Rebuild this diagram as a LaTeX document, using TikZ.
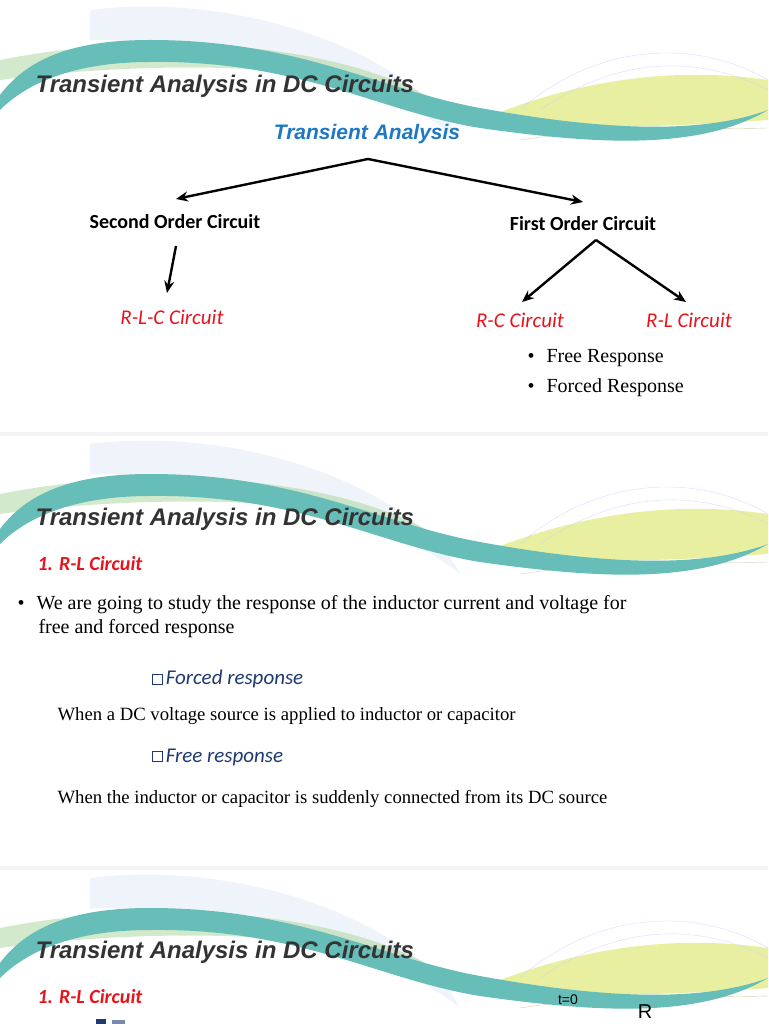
\documentclass[tikz,border=0pt]{standalone}
\usepackage{fontspec}
\setmainfont{Liberation Serif}
\setsansfont{Liberation Sans}
\newfontfamily\carl{Carlito}
\usetikzlibrary{arrows.meta}
\definecolor{teal1}{HTML}{67BDB8}
\definecolor{ttl}{HTML}{333333}
\definecolor{blu}{HTML}{1E78C2}
\definecolor{rd}{HTML}{E8141C}
\definecolor{navy}{HTML}{1F3A6E}
\definecolor{ylw}{HTML}{E4EC8A}
\definecolor{grn}{HTML}{A9D49A}
\definecolor{gap}{HTML}{F4F4F4}
\tikzset{
 ttlfont/.style={anchor=west,text=ttl,font=\sffamily\bfseries\itshape\fontsize{24}{26}\selectfont},
 lvl/.style={font=\carl\bfseries\fontsize{20}{22}\selectfont},
 redc/.style={text=rd,font=\carl\itshape\fontsize{21}{23}\selectfont},
 body/.style={anchor=west,font=\fontsize{20}{23}\selectfont},
 arr/.style={-{Stealth[length=12pt,width=10pt]},line width=2.4pt},
 sub/.style={anchor=west,text=navy,font=\carl\itshape\fontsize{21}{23}\selectfont},
 redh/.style={anchor=west,text=rd,font=\carl\bfseries\itshape\fontsize{20}{22}\selectfont},
}
\newcommand\banner[1]{%
 \begin{scope}[yshift=-#1]
  \fill[green!30!blue!10,opacity=.6] (90,10) .. controls (250,-10) and (420,60) .. (460,140) .. controls (400,90) and (250,40) .. (90,40) -- cycle;
  \fill[grn,opacity=.5] (0,60) .. controls (150,30) and (350,40) .. (450,110) .. controls (350,60) and (150,60) .. (0,80) -- cycle;
  \fill[ylw,opacity=.8] (480,120) .. controls (600,70) and (700,70) .. (768,80) -- (768,120) .. controls (700,125) and (600,130) .. (480,125) -- cycle;
  \draw[blue!20,opacity=.7] (520,110) .. controls (600,40) and (700,40) .. (768,80);
  \draw[blue!20,opacity=.7] (540,110) .. controls (620,55) and (700,55) .. (768,90);
  \draw[ylw!70!black,opacity=.5] (520,140) .. controls (620,125) and (700,130) .. (768,128);
  \fill[teal1] (0,95) .. controls (30,55) and (80,40) .. (150,40)
     .. controls (300,40) and (380,90) .. (480,108)
     .. controls (600,130) and (700,135) .. (768,110)
     .. controls (700,150) and (600,145) .. (480,128)
     .. controls (380,112) and (300,60) .. (150,62)
     .. controls (80,62) and (30,80) .. (0,110) -- cycle;
 \end{scope}}
\begin{document}
\begin{tikzpicture}[x=1pt,y=-1pt]
\useasboundingbox (0,0) rectangle (768,1024);
\fill[white] (0,0) rectangle (768,1024);
\fill[gap] (0,432) rectangle (768,436);
\fill[gap] (0,866) rectangle (768,870);
% slide 1
\banner{0pt}
\node[ttlfont] (t1) at (32,86) {Transient Analysis in DC Circuits};
\node[text=blu,font=\sffamily\bfseries\itshape\fontsize{21}{23}\selectfont] (ta) at (367,134) {Transient Analysis};
\coordinate (top) at (368,159);
\node[lvl] (so) at (175,222) {Second Order Circuit};
\node[lvl] (fo) at (583,224) {First Order Circuit};
\draw[arr] (top) -- (176,199);
\draw[arr] (top) -- (583,202);
\node[redc] (rlc) at (172,317) {R-L-C Circuit};
\draw[arr] (176,246) -- (167,293);
\node[redc] (rc) at (520,320) {R-C Circuit};
\node[redc] (rl) at (689,320) {R-L Circuit};
\coordinate (fb) at (596,240);
\draw[arr] (fb) -- (522,302);
\draw[arr] (fb) -- (686,302);
\node[body] (b1) at (524,358) {\textbullet\hspace{12pt}Free Response};
\node[body] (b2) at (524,388) {\textbullet\hspace{12pt}Forced Response};
% slide 2
\banner{434pt}
\node[ttlfont] (t2) at (32,519) {Transient Analysis in DC Circuits};
\node[redh] (h2) at (34,564) {1. R-L Circuit};
\node[anchor=north west,align=left,font=\fontsize{20}{24}\selectfont] (p1) at (14,592) {\textbullet\hspace{12pt}We are going to study the response of the inductor current and voltage for\\\hspace{21pt}free and forced response};
\node[sub] (fr) at (148,679) {\tikz\draw[navy,line width=.8pt] (0,0) rectangle (10pt,10pt);\,Forced response};
\node[body,font=\fontsize{18.7}{22}\selectfont] (d1) at (54,716) {When a DC voltage source is applied to inductor or capacitor};
\node[sub] (fr2) at (148,757) {\tikz\draw[navy,line width=.8pt] (0,0) rectangle (10pt,10pt);\,Free response};
\node[body,font=\fontsize{18.7}{22}\selectfont] (d2) at (54,799) {When the inductor or capacitor is suddenly connected from its DC source};
% slide 3
\banner{868pt}
\node[ttlfont] (t3) at (32,952) {Transient Analysis in DC Circuits};
\node[redh] (h3) at (34,997) {1. R-L Circuit};
\fill[navy] (96,1019) rectangle (106,1024);
\fill[navy!60] (112,1020) rectangle (125,1024);
\node[font=\sffamily\fontsize{14}{14}\selectfont] (tz) at (568,1000) {t=0};
\node[font=\sffamily\fontsize{20}{20}\selectfont] (R) at (645,1012) {R};
\end{tikzpicture}
\end{document}
